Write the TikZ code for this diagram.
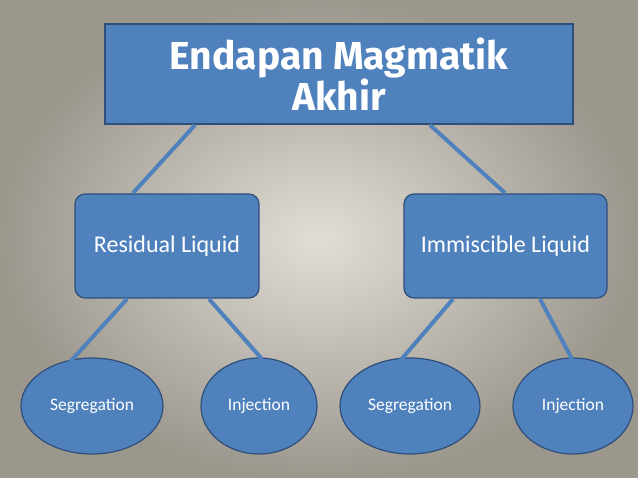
\documentclass[tikz,border=0pt]{standalone}
\usepackage{fontspec}
\setmainfont{Carlito}
\newfontfamily\titlefont{Fira Sans}
\usetikzlibrary{shapes.geometric,calc}
\definecolor{boxblue}{HTML}{4F81BD}
\definecolor{edgeblue}{HTML}{2F4F7A}
\definecolor{bgin}{HTML}{E2DED6}
\definecolor{bgout}{HTML}{9C978D}
\begin{document}
\begin{tikzpicture}[x=1pt,y=-1pt,
  boxst/.style={draw=edgeblue,line width=1.2pt,fill=boxblue,text=white,inner sep=0pt},
  ellst/.style={ellipse,draw=edgeblue,line width=1.2pt,fill=boxblue,text=white,inner sep=0pt,font=\fontsize{17.5}{20}\selectfont},
  link/.style={draw=boxblue,line width=4pt}]
\shade[inner color=bgin, outer color=bgout] (0,0) rectangle (638,478);
\useasboundingbox (0,0) rectangle (638,478);
\node[boxst,minimum width=468pt,minimum height=100pt,align=center,font=\titlefont\bfseries\fontsize{39}{40}\selectfont] (top) at (339,74) {Endapan Magmatik\\Akhir};
\node[boxst,rounded corners=10pt,minimum width=184pt,minimum height=104pt,font=\fontsize{24}{28}\selectfont] (res) at (167,246) {Residual Liquid};
\node[boxst,rounded corners=10pt,minimum width=203pt,minimum height=104pt,font=\fontsize{24}{28}\selectfont] (imm) at (505.5,246) {Immiscible Liquid};
\node[ellst,minimum width=142pt,minimum height=96pt] (s1) at (92,406) {Segregation};
\node[ellst,minimum width=116pt,minimum height=96pt] (i1) at (259,406) {Injection};
\node[ellst,minimum width=140pt,minimum height=96pt] (s2) at (410,406) {Segregation};
\node[ellst,minimum width=120pt,minimum height=96pt] (i2) at (573,406) {Injection};
\coordinate (a1) at (195,125); \coordinate (a2) at (133,193);
\coordinate (b1) at (430,125); \coordinate (b2) at (505,193);
\coordinate (c1) at (127,299); \coordinate (c2) at (70,362);
\coordinate (d1) at (209,299); \coordinate (d2) at (262,359);
\coordinate (e1) at (453,299); \coordinate (e2) at (400,361);
\coordinate (f1) at (540,299); \coordinate (f2) at (572,359);
\draw[link] (a1) -- (a2); \draw[link] (b1) -- (b2);
\draw[link] (c1) -- (c2); \draw[link] (d1) -- (d2);
\draw[link] (e1) -- (e2); \draw[link] (f1) -- (f2);
\end{tikzpicture}
\end{document}
